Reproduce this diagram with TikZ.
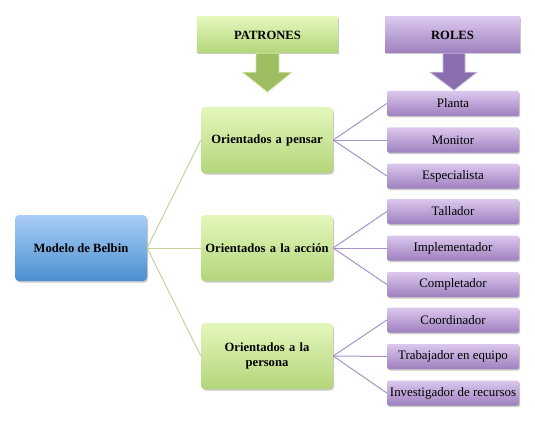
\documentclass[tikz,border=0pt]{standalone}
\usepackage{fontspec}
\setmainfont{Liberation Serif}
\usetikzlibrary{shadows,calc}
\definecolor{gtop}{HTML}{E4F7BC}
\definecolor{gbot}{HTML}{B3D57A}
\definecolor{ptop}{HTML}{DCC8EE}
\definecolor{pbot}{HTML}{9D80BE}
\definecolor{btop}{HTML}{A9CDF6}
\definecolor{bbot}{HTML}{4B90D0}
\definecolor{gline}{HTML}{C3D69B}
\definecolor{pline}{HTML}{A893C4}
\definecolor{garrow}{HTML}{9EBD63}
\definecolor{parrow}{HTML}{8A6FAE}
\tikzset{
  base/.style={rounded corners=4pt, drop shadow={shadow xshift=1pt, shadow yshift=-1.5pt, opacity=0.35, fill=black!60}, align=center, inner sep=0pt, text=black},
  greenbox/.style={base, top color=gtop, bottom color=gbot, minimum width=132pt, minimum height=66pt, font=\fontsize{12.6}{15}\selectfont\bfseries, text width=128pt},
  bluebox/.style={base, top color=btop, bottom color=bbot, minimum width=132pt, minimum height=66pt, font=\fontsize{12.6}{15}\selectfont\bfseries},
  rolebox/.style={base, rounded corners=2pt, top color=ptop, bottom color=pbot, minimum width=132pt, minimum height=25pt, font=\fontsize{12.9}{15}\selectfont},
  headg/.style={base, rounded corners=0pt, top color=gtop, bottom color=gbot, minimum width=141pt, minimum height=36pt, font=\fontsize{12.6}{15}\selectfont\bfseries},
  headp/.style={base, rounded corners=0pt, top color=ptop, bottom color=pbot, minimum width=135pt, minimum height=36pt, font=\fontsize{12.6}{15}\selectfont\bfseries},
  gconn/.style={draw=gline, line width=1pt},
  pconn/.style={draw=pline, line width=1pt},
}
\begin{document}
\begin{tikzpicture}[x=1pt,y=-1pt]
\useasboundingbox (0,0) rectangle (535,425);
\fill[white] (0,0) rectangle (535,425);
% headers
\node[headg] (pat) at (267.5,35) {PATRONES};
\node[headp] (rol) at (452.5,35) {ROLES};
% big arrows
\draw[fill=garrow, draw=gtop!80!garrow, line width=0.8pt]
  ($(pat.south)+(-11.5,0)$) -- ++(23,0) -- ++(0,19) -- ++(13,0) -- ($(pat.south)+(0,39)$) -- ($(pat.south)+(-25,19)$) -- ++(13.5,0) -- cycle;
\draw[fill=parrow, draw=ptop!80!parrow, line width=0.8pt]
  ($(rol.south)+(-9.5,0)$) -- ++(22,0) -- ++(0,19) -- ++(12,0) -- ($(rol.south)+(1.5,37)$) -- ($(rol.south)+(-22.5,19)$) -- ++(13,0) -- cycle;
% main nodes
\node[bluebox] (mb) at (81,248) {Modelo de Belbin};
\node[greenbox] (op) at (267,140) {Orientados a pensar};
\node[greenbox] (oa) at (267,248) {Orientados a la acción};
\node[greenbox] (ope) at (267,356) {Orientados a la\\persona};
% roles
\node[rolebox] (r1) at (453,103.5) {Planta};
\node[rolebox] (r2) at (453,140) {Monitor};
\node[rolebox] (r3) at (453,176) {Especialista};
\node[rolebox] (r4) at (453,211.5) {Tallador};
\node[rolebox] (r5) at (453,248) {Implementador};
\node[rolebox] (r6) at (453,284.5) {Completador};
\node[rolebox] (r7) at (453,320) {Coordinador};
\node[rolebox] (r8) at (453,356.5) {Trabajador en equipo};
\node[rolebox] (r9) at (453,393) {Investigador de recursos};
% connectors
\draw[gconn] (mb.east) -- (op.west);
\draw[gconn] (mb.east) -- (oa.west);
\draw[gconn] (mb.east) -- (ope.west);
\foreach \r in {r1,r2,r3} \draw[pconn] (op.east) -- (\r.west);
\foreach \r in {r4,r5,r6} \draw[pconn] (oa.east) -- (\r.west);
\foreach \r in {r7,r8,r9} \draw[pconn] (ope.east) -- (\r.west);
\end{tikzpicture}
\end{document}
